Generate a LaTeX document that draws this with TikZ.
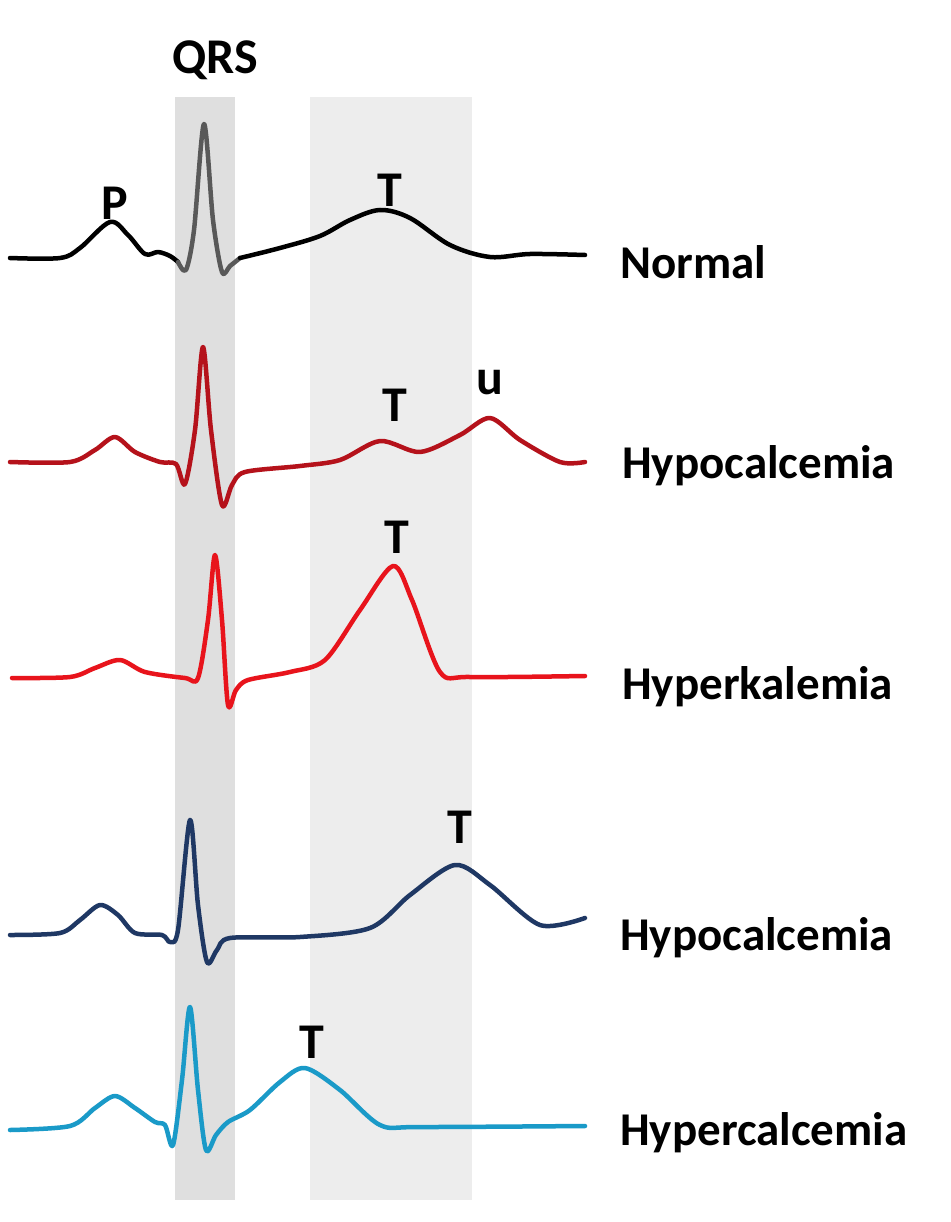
\documentclass[tikz,border=0pt]{standalone}
\usepackage{fontspec}
\setmainfont{Carlito}
\begin{document}
\begin{tikzpicture}[x=1pt,y=-1pt,
  lbl/.style={font=\bfseries\fontsize{47}{50}\selectfont,anchor=west,inner sep=0},
  wl/.style={font=\bfseries\fontsize{50}{52}\selectfont,inner sep=0},
  ecg/.style={line width=4.5pt,line join=round,line cap=round}]
\useasboundingbox (0,0) rectangle (950,1222);
\fill[white] (0,0) rectangle (950,1222);
\fill[gray!25] (175,97) rectangle (235,1200);
\fill[gray!14] (310,97) rectangle (472,1200);
\node[wl] (qrs) at (215,60) {QRS};
% Normal
\draw[ecg,black] plot[smooth,tension=0.55] coordinates{(10,258)(60,258)(80,248)(110,222)(128,235)(145,254)(158,252)(170,256)(178,262)};
\draw[ecg,black!65] plot[smooth,tension=0.5] coordinates{(178,262)(186,270)(194,230)(204,124)(213,220)(222,272)(230,266)(240,258)};
\draw[ecg,black] plot[smooth,tension=0.55] coordinates{(240,258)(280,248)(320,236)(350,220)(380,210)(410,218)(450,245)(490,257)(530,254)(585,255)};
\node[wl] (p) at (115,203) {P};
\node[wl] (t1) at (390,190) {T};
\node[lbl] (n1) at (620,262) {Normal};
% Hypocalcemia red
\definecolor{dred}{HTML}{B5121B}
\draw[ecg,dred] plot[smooth,tension=0.5] coordinates{(10,462)(70,462)(95,450)(115,437)(135,452)(160,462)(176,464)(185,484)(195,430)(203,347)(211,430)(222,505)(232,485)(245,472)(300,466)(340,460)(380,441)(420,452)(460,435)(490,418)(520,440)(560,462)(585,462)};
\node[wl] (t2) at (395,405) {T};
\node[wl] (u) at (490,383) {u};
\node[lbl] (n2) at (622,466) {Hypocalcemia};
% Hyperkalemia
\definecolor{bred}{HTML}{E8141C}
\draw[ecg,bred] plot[smooth,tension=0.5] coordinates{(12,678)(70,677)(95,668)(120,660)(145,672)(185,678)(198,678)(208,620)(215,555)(222,620)(228,705)(236,690)(248,680)(290,672)(325,660)(360,610)(393,566)(412,600)(440,672)(470,677)(585,676)};
\node[wl] (t3) at (397,537) {T};
\node[lbl] (n3) at (622,687) {Hyperkalemia};
% Hypocalcemia navy
\definecolor{navy}{HTML}{1F3864}
\draw[ecg,navy] plot[smooth,tension=0.5] coordinates{(10,935)(60,933)(80,920)(100,905)(118,915)(135,933)(162,935)(170,942)(178,930)(190,820)(198,905)(207,962)(217,950)(230,938)(300,937)(370,928)(410,895)(455,865)(490,885)(540,925)(585,918)};
\node[wl] (t4) at (460,827) {T};
\node[lbl] (n4) at (620,938) {Hypocalcemia};
% Hypercalcemia
\definecolor{cyanc}{HTML}{1A9AC8}
\draw[ecg,cyanc] plot[smooth,tension=0.5] coordinates{(10,1130)(70,1126)(95,1108)(115,1096)(135,1108)(155,1122)(165,1125)(173,1145)(182,1080)(190,1007)(198,1090)(206,1150)(216,1135)(228,1122)(250,1110)(280,1082)(305,1068)(340,1090)(380,1125)(420,1127)(585,1126)};
\node[wl] (t5) at (312,1042) {T};
\node[lbl] (n5) at (620,1133) {Hypercalcemia};
\end{tikzpicture}
\end{document}
